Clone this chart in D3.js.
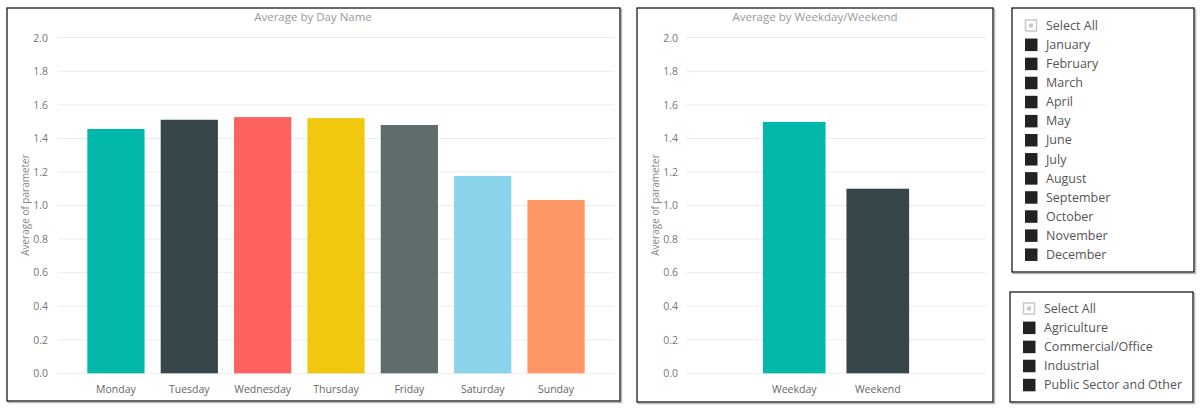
<!DOCTYPE html>
<html><head><meta charset="utf-8">
<script src="https://cdn.jsdelivr.net/npm/d3@7/dist/d3.min.js"></script>
<style>
body{margin:0;background:#fff;}
svg{display:block;font-family:"Open Sans","Segoe UI",sans-serif;}
</style></head><body>
<svg id="c" width="1203" height="410"></svg>
<script>
const days = ["Monday","Tuesday","Wednesday","Thursday","Friday","Saturday","Sunday"];
const dayValues = [1.456,1.511,1.527,1.521,1.480,1.176,1.033];
const dayColors = ["#01B8AA","#374649","#FD625E","#F2C80F","#5F6B6D","#8AD4EB","#FE9666"];
const dayTypes = ["Weekday","Weekend"];
const dayTypeValues = [1.498,1.100];
const dayTypeColors = ["#01B8AA","#374649"];
const yTicks = [0,0.2,0.4,0.6,0.8,1.0,1.2,1.4,1.6,1.8,2.0];
const months = ["January","February","March","April","May","June","July","August","September","October","November","December"];
const sectors = ["Agriculture","Commercial/Office","Industrial","Public Sector and Other"];

const svg = d3.select("#c");

function panel(x0,y0,x1,y1){
  svg.append("rect").attr("x",x0+1.5).attr("y",y0+1.5).attr("width",x1-x0).attr("height",y1-y0)
    .attr("fill","none").attr("stroke","#bbb").attr("stroke-width",1.5);
  svg.append("rect").attr("x",x0).attr("y",y0).attr("width",x1-x0).attr("height",y1-y0)
    .attr("fill","#fff").attr("stroke","#1a1a1a").attr("stroke-width",1.3);
}

function barChart(opts){
  const y = d3.scaleLinear().domain([0,2]).range([373.3,37.7]);
  const x = d3.scaleBand().domain(opts.cats).range([opts.gx0,opts.gx1])
    .paddingInner(opts.pi).paddingOuter(opts.po);
  const g = svg.append("g");
  g.append("g").selectAll("line").data(yTicks).join("line")
    .attr("x1",opts.gx0).attr("x2",opts.gx1)
    .attr("y1",d=>y(d)).attr("y2",d=>y(d))
    .attr("stroke","#ececec").attr("stroke-width",1);
  const ya = d3.axisLeft(y).tickValues(yTicks).tickFormat(d3.format(".1f")).tickSize(0).tickPadding(0);
  const yg = g.append("g").attr("transform",`translate(${opts.tx},0)`).call(ya);
  yg.select(".domain").remove();
  yg.selectAll("text").attr("fill","#777").style("font-size","10.5px").style("font-family","'Open Sans',sans-serif");
  g.append("g").selectAll("rect").data(opts.vals).join("rect")
    .attr("x",(d,i)=>x(opts.cats[i])).attr("width",x.bandwidth())
    .attr("y",d=>y(d)).attr("height",d=>y(0)-y(d))
    .attr("fill",(d,i)=>opts.colors[i]);
  const xa = d3.axisBottom(x).tickSize(0).tickPadding(0);
  const xg = g.append("g").attr("transform",`translate(0,${386})`).call(xa);
  xg.select(".domain").remove();
  xg.selectAll("text").attr("fill","#666").style("font-size","10.5px").style("font-family","'Open Sans',sans-serif");
  g.append("text").attr("x",opts.titleX).attr("y",21).attr("text-anchor","middle")
    .attr("fill","#999").style("font-size","11.5px").text(opts.title);
  g.append("text").attr("transform",`translate(${opts.ytX},205) rotate(-90)`)
    .attr("text-anchor","middle").attr("fill","#888").style("font-size","10px").text("Average of parameter");
}

panel(7,8,620,401);
barChart({cats:days,vals:dayValues,colors:dayColors,gx0:58,gx1:614,pi:0.22,po:0.4,tx:48,
  title:"Average by Day Name",titleX:313,ytX:29});

panel(637,8,993,402);
barChart({cats:dayTypes,vals:dayTypeValues,colors:dayTypeColors,gx0:686,gx1:986,pi:0.25,po:0.92,tx:678,
  title:"Average by Weekday/Weekend",titleX:815,ytX:659});

function slicer(x0,y0,x1,y1,items,firstY,boxX,textX){
  panel(x0,y0,x1,y1);
  const all = ["Select All"].concat(items);
  const step = 19.08;
  const g = svg.append("g");
  all.forEach((t,i)=>{
    const cy = firstY + i*step;
    if(i===0){
      g.append("rect").attr("x",boxX+0.5).attr("y",cy-5.5).attr("width",11).attr("height",11)
        .attr("fill","#fff").attr("stroke","#c8c8c8").attr("stroke-width",1.5);
      g.append("rect").attr("x",boxX+4).attr("y",cy-2).attr("width",4).attr("height",4).attr("fill","#c8c8c8");
    } else {
      g.append("rect").attr("x",boxX).attr("y",cy-6).attr("width",12.5).attr("height",12.5).attr("fill","#222");
    }
    g.append("text").attr("x",textX).attr("y",cy+4.5).attr("fill","#555")
      .style("font-size","12.5px").text(t);
  });
}
slicer(1012,8,1194,272,months,25.5,1025,1046);
slicer(1010,292,1193,402,sectors,308.5,1023,1044);
</script>
</body></html>
